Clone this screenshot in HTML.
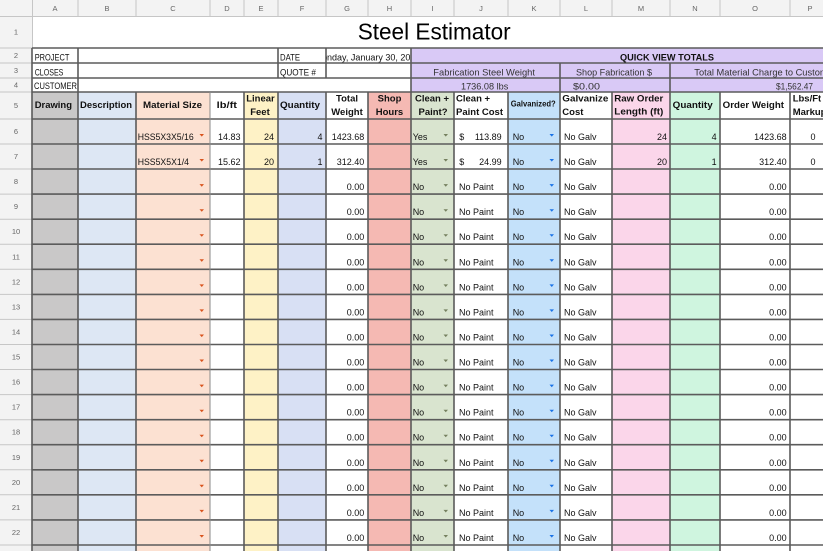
<!DOCTYPE html>
<html><head><meta charset="utf-8"><style>
html,body{margin:0;padding:0;background:#fff;width:823px;height:551px;overflow:hidden}
svg{display:block}
text{font-family:"Liberation Sans",sans-serif;font-size:9px;fill:#111}
.b{font-weight:bold;font-size:9.5px}
.h{font-size:7.5px;fill:#666}
.e{text-anchor:end}
.m{text-anchor:middle}
.p{fill:#333;font-size:9.3px}
</style></head><body>
<svg width="823" height="551" viewBox="0 0 823 551" xmlns="http://www.w3.org/2000/svg">
<defs><clipPath id="cd"><rect x="326" y="48" width="85" height="15"/></clipPath></defs>
<rect width="823" height="551" fill="#fff"/>
<rect x="0" y="0" width="823" height="16" fill="#f3f3f3"/>
<rect x="0" y="0" width="32" height="551" fill="#f3f3f3"/>
<rect x="411" y="48" width="412" height="44" fill="#d9c9f6"/>
<rect x="32" y="92" width="46" height="459" fill="#c9c8c8"/>
<rect x="78" y="92" width="58" height="459" fill="#dde7f4"/>
<rect x="136" y="92" width="74" height="459" fill="#fce1d2"/>
<rect x="244" y="92" width="34" height="459" fill="#fef2c6"/>
<rect x="278" y="92" width="48" height="459" fill="#d8e0f4"/>
<rect x="368" y="92" width="43" height="459" fill="#f5b9b3"/>
<rect x="411" y="92" width="43" height="459" fill="#d9e4cf"/>
<rect x="508" y="92" width="52" height="459" fill="#c4e1fa"/>
<rect x="612" y="92" width="58" height="459" fill="#fbd6ea"/>
<rect x="670" y="92" width="50" height="459" fill="#cff5df"/>

<!-- light header gridlines -->
<path fill="none" stroke="#c6c6c6" stroke-width="1" d="M0,16.5H823 M32.5,0V48 M78,0V16 M136,0V16 M210,0V16 M244,0V16 M278,0V16 M326,0V16 M368,0V16 M411,0V16 M454,0V16 M508,0V16 M560,0V16 M612,0V16 M670,0V16 M720,0V16 M790,0V16 M0,48H32 M0,63H32 M0,78H32 M0,92H32 M0,119H32 M0,144H32 M0,169H32 M0,194.1H32 M0,219.2H32 M0,244.2H32 M0,269.3H32 M0,294.4H32 M0,319.4H32 M0,344.5H32 M0,369.5H32 M0,394.6H32 M0,419.7H32 M0,444.7H32 M0,469.8H32 M0,494.8H32 M0,519.9H32 M0,545H32"/>

<!-- dark borders -->
<path fill="none" stroke="#5b5b5b" stroke-width="1.6" d="M32,48H823 M32,63H823 M32,78H823 M32,92H823 M32,119H823 M32,144H823 M32,169H823 M32,194.1H823 M32,219.2H823 M32,244.2H823 M32,269.3H823 M32,294.4H823 M32,319.4H823 M32,344.5H823 M32,369.5H823 M32,394.6H823 M32,419.7H823 M32,444.7H823 M32,469.8H823 M32,494.8H823 M32,519.9H823 M32,545H823
M32,48V551 M78,48V551 M136,92V551 M244,92V551 M278,48V78 M278,92V551 M326,48V78 M326,92V551 M368,92V551 M411,48V551 M454,92V551 M508,92V551 M560,63V551 M612,92V551 M670,63V551 M720,92V551 M790,92V551"/>
<path fill="none" stroke="#8a8a8a" stroke-width="1" d="M210,92V551"/>

<!-- column letters -->
<g class="h">
<text class="h m" x="55" y="11">A</text><text class="h m" x="107" y="11">B</text><text class="h m" x="173" y="11">C</text><text class="h m" x="227" y="11">D</text><text class="h m" x="261" y="11">E</text><text class="h m" x="302" y="11">F</text><text class="h m" x="347" y="11">G</text><text class="h m" x="389.5" y="11">H</text><text class="h m" x="432.5" y="11">I</text><text class="h m" x="481" y="11">J</text><text class="h m" x="534" y="11">K</text><text class="h m" x="586" y="11">L</text><text class="h m" x="641" y="11">M</text><text class="h m" x="695" y="11">N</text><text class="h m" x="755" y="11">O</text><text class="h m" x="810" y="11">P</text>
</g>
<!-- row numbers -->
<text class="h m" x="16" y="34.5">1</text><text class="h m" x="16" y="58">2</text><text class="h m" x="16" y="73">3</text><text class="h m" x="16" y="87.5">4</text><text class="h m" x="16" y="108">5</text>
<text class="h m" x="16" y="134">6</text><text class="h m" x="16" y="159">7</text><text class="h m" x="16" y="184.1">8</text><text class="h m" x="16" y="209.2">9</text><text class="h m" x="16" y="234.2">10</text><text class="h m" x="16" y="259.3">11</text><text class="h m" x="16" y="284.4">12</text><text class="h m" x="16" y="309.4">13</text><text class="h m" x="16" y="334.5">14</text><text class="h m" x="16" y="359.5">15</text><text class="h m" x="16" y="384.6">16</text><text class="h m" x="16" y="409.7">17</text><text class="h m" x="16" y="434.7">18</text><text class="h m" x="16" y="459.8">19</text><text class="h m" x="16" y="484.8">20</text><text class="h m" x="16" y="509.9">21</text><text class="h m" x="16" y="535">22</text>

<!-- title -->
<text x="357.7" y="39.3" style="font-size:23px;fill:#000" textLength="153" lengthAdjust="spacingAndGlyphs">Steel Estimator</text>

<!-- rows 2-4 -->
<text x="34.7" y="60.5" textLength="34.7" lengthAdjust="spacingAndGlyphs">PROJECT</text>
<text x="34.7" y="75.3" textLength="28.7" lengthAdjust="spacingAndGlyphs">CLOSES</text>
<text x="34" y="89.2" textLength="43" lengthAdjust="spacingAndGlyphs">CUSTOMER</text>
<text x="280" y="60.5" textLength="20" lengthAdjust="spacingAndGlyphs">DATE</text>
<text x="280" y="75.3" textLength="36" lengthAdjust="spacingAndGlyphs">QUOTE #</text>
<g clip-path="url(#cd)"><text x="314.5" y="60.5">Monday, January 30, 2023</text></g>

<text class="b m" x="667" y="60.7" textLength="94" lengthAdjust="spacingAndGlyphs">QUICK VIEW TOTALS</text>
<text class="p" x="433.3" y="75.5" textLength="101.7" lengthAdjust="spacingAndGlyphs">Fabrication Steel Weight</text>
<text class="p" x="576" y="75.5" textLength="76" lengthAdjust="spacingAndGlyphs">Shop Fabrication $</text>
<text class="p" x="694.3" y="75.5">Total Material Charge to Customer</text>
<text class="p" x="461" y="89.5" textLength="47.3" lengthAdjust="spacingAndGlyphs">1736.08 lbs</text>
<text class="p" x="573" y="89.5" textLength="27" lengthAdjust="spacingAndGlyphs">$0.00</text>
<text class="p" x="776" y="89.5" textLength="37" lengthAdjust="spacingAndGlyphs">$1,562.47</text>

<!-- row 5 headers -->
<g>
<text class="b" x="34.7" y="108" textLength="37.3" lengthAdjust="spacingAndGlyphs">Drawing</text>
<text class="b" x="80" y="108" textLength="52" lengthAdjust="spacingAndGlyphs">Description</text>
<text class="b" x="143" y="108" textLength="59" lengthAdjust="spacingAndGlyphs">Material Size</text>
<text class="b" x="216.7" y="108" textLength="20.3" lengthAdjust="spacingAndGlyphs">lb/ft</text>
<text class="b m" x="260.5" y="101.5">Linear</text>
<text class="b m" x="260" y="115">Feet</text>
<text class="b" x="280" y="108" textLength="40" lengthAdjust="spacingAndGlyphs">Quantity</text>
<text class="b m" x="347" y="101.5">Total</text>
<text class="b m" x="347" y="115">Weight</text>
<text class="b m" x="389.5" y="101.5">Shop</text>
<text class="b m" x="389.5" y="115">Hours</text>
<text class="b m" x="432" y="101.5">Clean +</text>
<text class="b m" x="433" y="115">Paint?</text>
<text class="b" x="456" y="101.5">Clean +</text>
<text class="b" x="456" y="115" textLength="47" lengthAdjust="spacingAndGlyphs">Paint Cost</text>
<text class="b" x="510.7" y="106.5" style="font-size:8px" textLength="45" lengthAdjust="spacingAndGlyphs">Galvanized?</text>
<text class="b" x="562.3" y="101.5" textLength="46" lengthAdjust="spacingAndGlyphs">Galvanize</text>
<text class="b" x="562.3" y="115">Cost</text>
<text class="b" x="614.3" y="101.5" textLength="49" lengthAdjust="spacingAndGlyphs">Raw Order</text>
<text class="b" x="614.3" y="114.5" textLength="49" lengthAdjust="spacingAndGlyphs">Length (ft)</text>
<text class="b" x="672.7" y="108" textLength="40" lengthAdjust="spacingAndGlyphs">Quantity</text>
<text class="b" x="722.7" y="108" textLength="61.3" lengthAdjust="spacingAndGlyphs">Order Weight</text>
<text class="b" x="792.7" y="101.5">Lbs/Ft</text>
<text class="b" x="792.7" y="115">Markup</text>
</g>

<!-- row 6 -->
<g transform="translate(0,144)">
<text x="137.7" y="-4" textLength="56" lengthAdjust="spacingAndGlyphs">HSS5X3X5/16</text>
<path d="M199.5,-10h4.5l-2.25,2.6z" fill="#d9541e"/>
<text class="e" x="240.5" y="-4">14.83</text>
<text class="e" x="274" y="-4">24</text>
<text class="e" x="322.5" y="-4">4</text>
<text class="e" x="364.3" y="-4">1423.68</text>
<text x="412.7" y="-4">Yes</text>
<path d="M443.5,-10h4.5l-2.25,2.6z" fill="#75805f"/>
<text x="459.3" y="-4">$</text>
<text class="e" x="501.7" y="-4">113.89</text>
<text x="512.7" y="-4">No</text>
<path d="M549.5,-10h4.5l-2.25,2.6z" fill="#1a73e8"/>
<text x="564" y="-4">No Galv</text>
<text class="e" x="667" y="-4">24</text>
<text class="e" x="716.7" y="-4">4</text>
<text class="e" x="786.7" y="-4">1423.68</text>
<text x="810.5" y="-4">0</text>
</g>
<!-- row 7 -->
<g transform="translate(0,169)">
<text x="137.7" y="-4" textLength="51.3" lengthAdjust="spacingAndGlyphs">HSS5X5X1/4</text>
<path d="M199.5,-10h4.5l-2.25,2.6z" fill="#d9541e"/>
<text class="e" x="240.5" y="-4">15.62</text>
<text class="e" x="274" y="-4">20</text>
<text class="e" x="322.5" y="-4">1</text>
<text class="e" x="364.3" y="-4">312.40</text>
<text x="412.7" y="-4">Yes</text>
<path d="M443.5,-10h4.5l-2.25,2.6z" fill="#75805f"/>
<text x="459.3" y="-4">$</text>
<text class="e" x="501.7" y="-4">24.99</text>
<text x="512.7" y="-4">No</text>
<path d="M549.5,-10h4.5l-2.25,2.6z" fill="#1a73e8"/>
<text x="564" y="-4">No Galv</text>
<text class="e" x="667" y="-4">20</text>
<text class="e" x="716.7" y="-4">1</text>
<text class="e" x="786.7" y="-4">312.40</text>
<text x="810.5" y="-4">0</text>
</g>

<!-- rows 8-22 -->
<g transform="translate(0,194.1)"><path d="M199.5,-10h4.5l-2.25,2.6z" fill="#d9541e"/><text class="e" x="364.3" y="-4">0.00</text><text x="412.7" y="-4">No</text><path d="M443.5,-10h4.5l-2.25,2.6z" fill="#75805f"/><text x="459" y="-4">No Paint</text><text x="512.7" y="-4">No</text><path d="M549.5,-10h4.5l-2.25,2.6z" fill="#1a73e8"/><text x="564" y="-4">No Galv</text><text class="e" x="786.7" y="-4">0.00</text></g>
<g transform="translate(0,219.2)"><path d="M199.5,-10h4.5l-2.25,2.6z" fill="#d9541e"/><text class="e" x="364.3" y="-4">0.00</text><text x="412.7" y="-4">No</text><path d="M443.5,-10h4.5l-2.25,2.6z" fill="#75805f"/><text x="459" y="-4">No Paint</text><text x="512.7" y="-4">No</text><path d="M549.5,-10h4.5l-2.25,2.6z" fill="#1a73e8"/><text x="564" y="-4">No Galv</text><text class="e" x="786.7" y="-4">0.00</text></g>
<g transform="translate(0,244.2)"><path d="M199.5,-10h4.5l-2.25,2.6z" fill="#d9541e"/><text class="e" x="364.3" y="-4">0.00</text><text x="412.7" y="-4">No</text><path d="M443.5,-10h4.5l-2.25,2.6z" fill="#75805f"/><text x="459" y="-4">No Paint</text><text x="512.7" y="-4">No</text><path d="M549.5,-10h4.5l-2.25,2.6z" fill="#1a73e8"/><text x="564" y="-4">No Galv</text><text class="e" x="786.7" y="-4">0.00</text></g>
<g transform="translate(0,269.3)"><path d="M199.5,-10h4.5l-2.25,2.6z" fill="#d9541e"/><text class="e" x="364.3" y="-4">0.00</text><text x="412.7" y="-4">No</text><path d="M443.5,-10h4.5l-2.25,2.6z" fill="#75805f"/><text x="459" y="-4">No Paint</text><text x="512.7" y="-4">No</text><path d="M549.5,-10h4.5l-2.25,2.6z" fill="#1a73e8"/><text x="564" y="-4">No Galv</text><text class="e" x="786.7" y="-4">0.00</text></g>
<g transform="translate(0,294.4)"><path d="M199.5,-10h4.5l-2.25,2.6z" fill="#d9541e"/><text class="e" x="364.3" y="-4">0.00</text><text x="412.7" y="-4">No</text><path d="M443.5,-10h4.5l-2.25,2.6z" fill="#75805f"/><text x="459" y="-4">No Paint</text><text x="512.7" y="-4">No</text><path d="M549.5,-10h4.5l-2.25,2.6z" fill="#1a73e8"/><text x="564" y="-4">No Galv</text><text class="e" x="786.7" y="-4">0.00</text></g>
<g transform="translate(0,319.4)"><path d="M199.5,-10h4.5l-2.25,2.6z" fill="#d9541e"/><text class="e" x="364.3" y="-4">0.00</text><text x="412.7" y="-4">No</text><path d="M443.5,-10h4.5l-2.25,2.6z" fill="#75805f"/><text x="459" y="-4">No Paint</text><text x="512.7" y="-4">No</text><path d="M549.5,-10h4.5l-2.25,2.6z" fill="#1a73e8"/><text x="564" y="-4">No Galv</text><text class="e" x="786.7" y="-4">0.00</text></g>
<g transform="translate(0,344.5)"><path d="M199.5,-10h4.5l-2.25,2.6z" fill="#d9541e"/><text class="e" x="364.3" y="-4">0.00</text><text x="412.7" y="-4">No</text><path d="M443.5,-10h4.5l-2.25,2.6z" fill="#75805f"/><text x="459" y="-4">No Paint</text><text x="512.7" y="-4">No</text><path d="M549.5,-10h4.5l-2.25,2.6z" fill="#1a73e8"/><text x="564" y="-4">No Galv</text><text class="e" x="786.7" y="-4">0.00</text></g>
<g transform="translate(0,369.5)"><path d="M199.5,-10h4.5l-2.25,2.6z" fill="#d9541e"/><text class="e" x="364.3" y="-4">0.00</text><text x="412.7" y="-4">No</text><path d="M443.5,-10h4.5l-2.25,2.6z" fill="#75805f"/><text x="459" y="-4">No Paint</text><text x="512.7" y="-4">No</text><path d="M549.5,-10h4.5l-2.25,2.6z" fill="#1a73e8"/><text x="564" y="-4">No Galv</text><text class="e" x="786.7" y="-4">0.00</text></g>
<g transform="translate(0,394.6)"><path d="M199.5,-10h4.5l-2.25,2.6z" fill="#d9541e"/><text class="e" x="364.3" y="-4">0.00</text><text x="412.7" y="-4">No</text><path d="M443.5,-10h4.5l-2.25,2.6z" fill="#75805f"/><text x="459" y="-4">No Paint</text><text x="512.7" y="-4">No</text><path d="M549.5,-10h4.5l-2.25,2.6z" fill="#1a73e8"/><text x="564" y="-4">No Galv</text><text class="e" x="786.7" y="-4">0.00</text></g>
<g transform="translate(0,419.7)"><path d="M199.5,-10h4.5l-2.25,2.6z" fill="#d9541e"/><text class="e" x="364.3" y="-4">0.00</text><text x="412.7" y="-4">No</text><path d="M443.5,-10h4.5l-2.25,2.6z" fill="#75805f"/><text x="459" y="-4">No Paint</text><text x="512.7" y="-4">No</text><path d="M549.5,-10h4.5l-2.25,2.6z" fill="#1a73e8"/><text x="564" y="-4">No Galv</text><text class="e" x="786.7" y="-4">0.00</text></g>
<g transform="translate(0,444.7)"><path d="M199.5,-10h4.5l-2.25,2.6z" fill="#d9541e"/><text class="e" x="364.3" y="-4">0.00</text><text x="412.7" y="-4">No</text><path d="M443.5,-10h4.5l-2.25,2.6z" fill="#75805f"/><text x="459" y="-4">No Paint</text><text x="512.7" y="-4">No</text><path d="M549.5,-10h4.5l-2.25,2.6z" fill="#1a73e8"/><text x="564" y="-4">No Galv</text><text class="e" x="786.7" y="-4">0.00</text></g>
<g transform="translate(0,469.8)"><path d="M199.5,-10h4.5l-2.25,2.6z" fill="#d9541e"/><text class="e" x="364.3" y="-4">0.00</text><text x="412.7" y="-4">No</text><path d="M443.5,-10h4.5l-2.25,2.6z" fill="#75805f"/><text x="459" y="-4">No Paint</text><text x="512.7" y="-4">No</text><path d="M549.5,-10h4.5l-2.25,2.6z" fill="#1a73e8"/><text x="564" y="-4">No Galv</text><text class="e" x="786.7" y="-4">0.00</text></g>
<g transform="translate(0,494.8)"><path d="M199.5,-10h4.5l-2.25,2.6z" fill="#d9541e"/><text class="e" x="364.3" y="-4">0.00</text><text x="412.7" y="-4">No</text><path d="M443.5,-10h4.5l-2.25,2.6z" fill="#75805f"/><text x="459" y="-4">No Paint</text><text x="512.7" y="-4">No</text><path d="M549.5,-10h4.5l-2.25,2.6z" fill="#1a73e8"/><text x="564" y="-4">No Galv</text><text class="e" x="786.7" y="-4">0.00</text></g>
<g transform="translate(0,519.9)"><path d="M199.5,-10h4.5l-2.25,2.6z" fill="#d9541e"/><text class="e" x="364.3" y="-4">0.00</text><text x="412.7" y="-4">No</text><path d="M443.5,-10h4.5l-2.25,2.6z" fill="#75805f"/><text x="459" y="-4">No Paint</text><text x="512.7" y="-4">No</text><path d="M549.5,-10h4.5l-2.25,2.6z" fill="#1a73e8"/><text x="564" y="-4">No Galv</text><text class="e" x="786.7" y="-4">0.00</text></g>
<g transform="translate(0,545)"><path d="M199.5,-10h4.5l-2.25,2.6z" fill="#d9541e"/><text class="e" x="364.3" y="-4">0.00</text><text x="412.7" y="-4">No</text><path d="M443.5,-10h4.5l-2.25,2.6z" fill="#75805f"/><text x="459" y="-4">No Paint</text><text x="512.7" y="-4">No</text><path d="M549.5,-10h4.5l-2.25,2.6z" fill="#1a73e8"/><text x="564" y="-4">No Galv</text><text class="e" x="786.7" y="-4">0.00</text></g>
</svg>
</body></html>
